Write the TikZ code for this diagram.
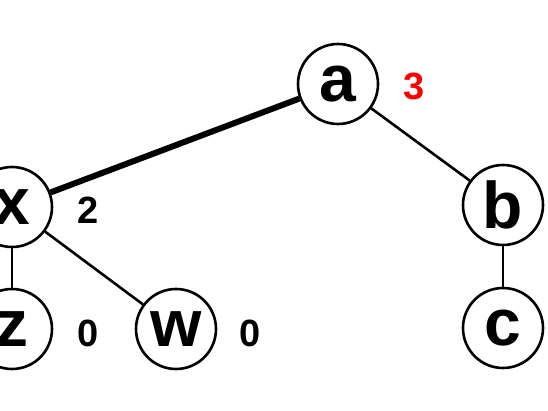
\documentclass[tikz,border=0pt]{standalone}
\usepackage{fontspec}
\setmainfont{Liberation Sans}
\begin{document}
\begin{tikzpicture}[x=1pt,y=1pt,
  vertex/.style={circle,draw,line width=2.6pt,minimum size=80pt,inner sep=0pt,font=\fontsize{66}{66}\selectfont\bfseries},
  lbl/.style={font=\fontsize{38}{38}\selectfont\bfseries,inner sep=0pt},
  edge/.style={line width=2.6pt},
  heavy/.style={line width=6pt}]
\useasboundingbox (0,0) rectangle (548,411);
\node[vertex] (a) at (338,327) {a};
\node[vertex] (x) at (12,204) {x};
\node[vertex] (b) at (503,206) {b};
\node[vertex] (z) at (12,82) {z};
\node[vertex] (w) at (176,82) {w};
\node[vertex] (c) at (503,83) {c};
\node[lbl,text=red] (la) at (414,325) {3};
\node[lbl] (lx) at (88,201) {2};
\node[lbl] (lz) at (88,78) {0};
\node[lbl] (lw) at (250,78) {0};
\draw[heavy] (a) -- (x);
\draw[edge] (a) -- (b);
\draw[edge] (b) -- (c);
\draw[edge] (x) -- (z);
\draw[edge] (x) -- (w);
\end{tikzpicture}
\end{document}
